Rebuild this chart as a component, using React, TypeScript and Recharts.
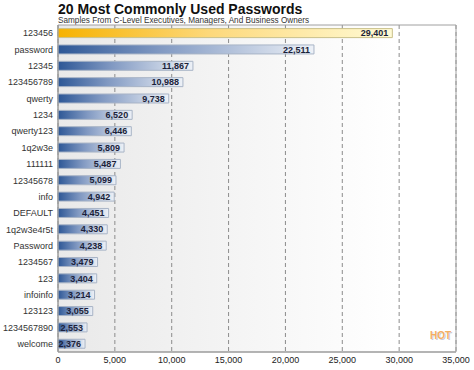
import { BarChart, Bar, XAxis, YAxis, CartesianGrid, Cell, LabelList, ReferenceArea } from "recharts";

const passwords = [
  "123456", "password", "12345", "123456789", "qwerty", "1234", "qwerty123", "1q2w3e",
  "111111", "12345678", "info", "DEFAULT", "1q2w3e4r5t", "Password", "1234567", "123",
  "infoinfo", "123123", "1234567890", "welcome",
];
const counts = [
  29401, 22511, 11867, 10988, 9738, 6520, 6446, 5809, 5487, 5099, 4942, 4451, 4330, 4238,
  3479, 3404, 3214, 3055, 2553, 2376,
];
const xTicks = [0, 5000, 10000, 15000, 20000, 25000, 30000, 35000];

const data = passwords.map((name, i) => ({ name, count: counts[i] }));
const fmt = (v: number) => v.toLocaleString("en-US");

export default function App() {
  return (
    <div style={{ position: "absolute", left: 0, top: 0, width: 474, height: 370, background: "#fff", fontFamily: "'Liberation Sans', Arial, sans-serif" }}>
      <div style={{ position: "absolute", left: 58, top: 1, fontSize: 14, fontWeight: "bold", color: "#111", whiteSpace: "nowrap", lineHeight: "17px" }}>
        20 Most Commonly Used Passwords
      </div>
      <div style={{ position: "absolute", left: 58, top: 16, fontSize: 8.2, color: "#333", whiteSpace: "nowrap", lineHeight: "9px" }}>
        Samples From C-Level Executives, Managers, And Business Owners
      </div>
      <BarChart
        width={474}
        height={370}
        data={data}
        layout="vertical"
        margin={{ top: 25, right: 18, left: 0, bottom: 0 }}
        barCategoryGap="22%"
      >
        <defs>
          <linearGradient id="blueBar" x1="0" y1="0" x2="1" y2="0">
            <stop offset="0%" stopColor="#2d5796" />
            <stop offset="40%" stopColor="#8199c2" />
            <stop offset="100%" stopColor="#edf1f7" />
          </linearGradient>
          <linearGradient id="goldBar" x1="0" y1="0" x2="1" y2="0">
            <stop offset="0%" stopColor="#f6b200" />
            <stop offset="45%" stopColor="#fdd87a" />
            <stop offset="100%" stopColor="#fffbd6" />
          </linearGradient>
          <linearGradient id="plotBg" x1="0" y1="0" x2="1" y2="0">
            <stop offset="0%" stopColor="#e9e9e9" />
            <stop offset="85%" stopColor="#ffffff" />
          </linearGradient>
        </defs>
        <CartesianGrid horizontal={false} stroke="#8c8c8c" strokeDasharray="4 3" fill="url(#plotBg)" />
        <XAxis
          type="number"
          domain={[0, 35000]}
          ticks={xTicks}
          tickFormatter={fmt}
          height={18}
          tickLine={false}
          tickSize={3}
          axisLine={{ stroke: "#999" }}
          tick={{ fontSize: 9, fill: "#222", fontFamily: "'Liberation Sans', Arial, sans-serif" }}
        />
        <YAxis
          type="category"
          dataKey="name"
          width={58}
          tickLine={false}
          axisLine={{ stroke: "#999" }}
          tickSize={2}
          tickMargin={3}
          tick={{ fontSize: 9, fill: "#333", fontFamily: "'Liberation Sans', Arial, sans-serif" }}
          interval={0}
        />
        <ReferenceArea x1={0} x2={35000} fill="none" stroke="#a0a0a0" strokeWidth={1} />
        <Bar dataKey="count" isAnimationActive={false} stroke="#a8b4c6" strokeWidth={1}>
          {data.map((d, i) => (
            <Cell key={d.name} fill={i === 0 ? "url(#goldBar)" : "url(#blueBar)"} stroke={i === 0 ? "#c9c08a" : "#a8b4c6"} />
          ))}
          <LabelList
            dataKey="count"
            position="insideRight"
            offset={4}
            formatter={(v: number) => fmt(v)}
            style={{ fontSize: 9, fontWeight: "bold", fill: "#1b1f3a", fontFamily: "'Liberation Sans', Arial, sans-serif" }}
          />
        </Bar>
      </BarChart>
      <div style={{ position: "absolute", left: 430, top: 330, fontSize: 10, fontWeight: "bold", color: "#f29a3a", lineHeight: "11px", textShadow: "0 0 1px #fff, 1px 1px 0 #b8bcc8", opacity: 0.8 }}>
        HOT
      </div>
    </div>
  );
}
